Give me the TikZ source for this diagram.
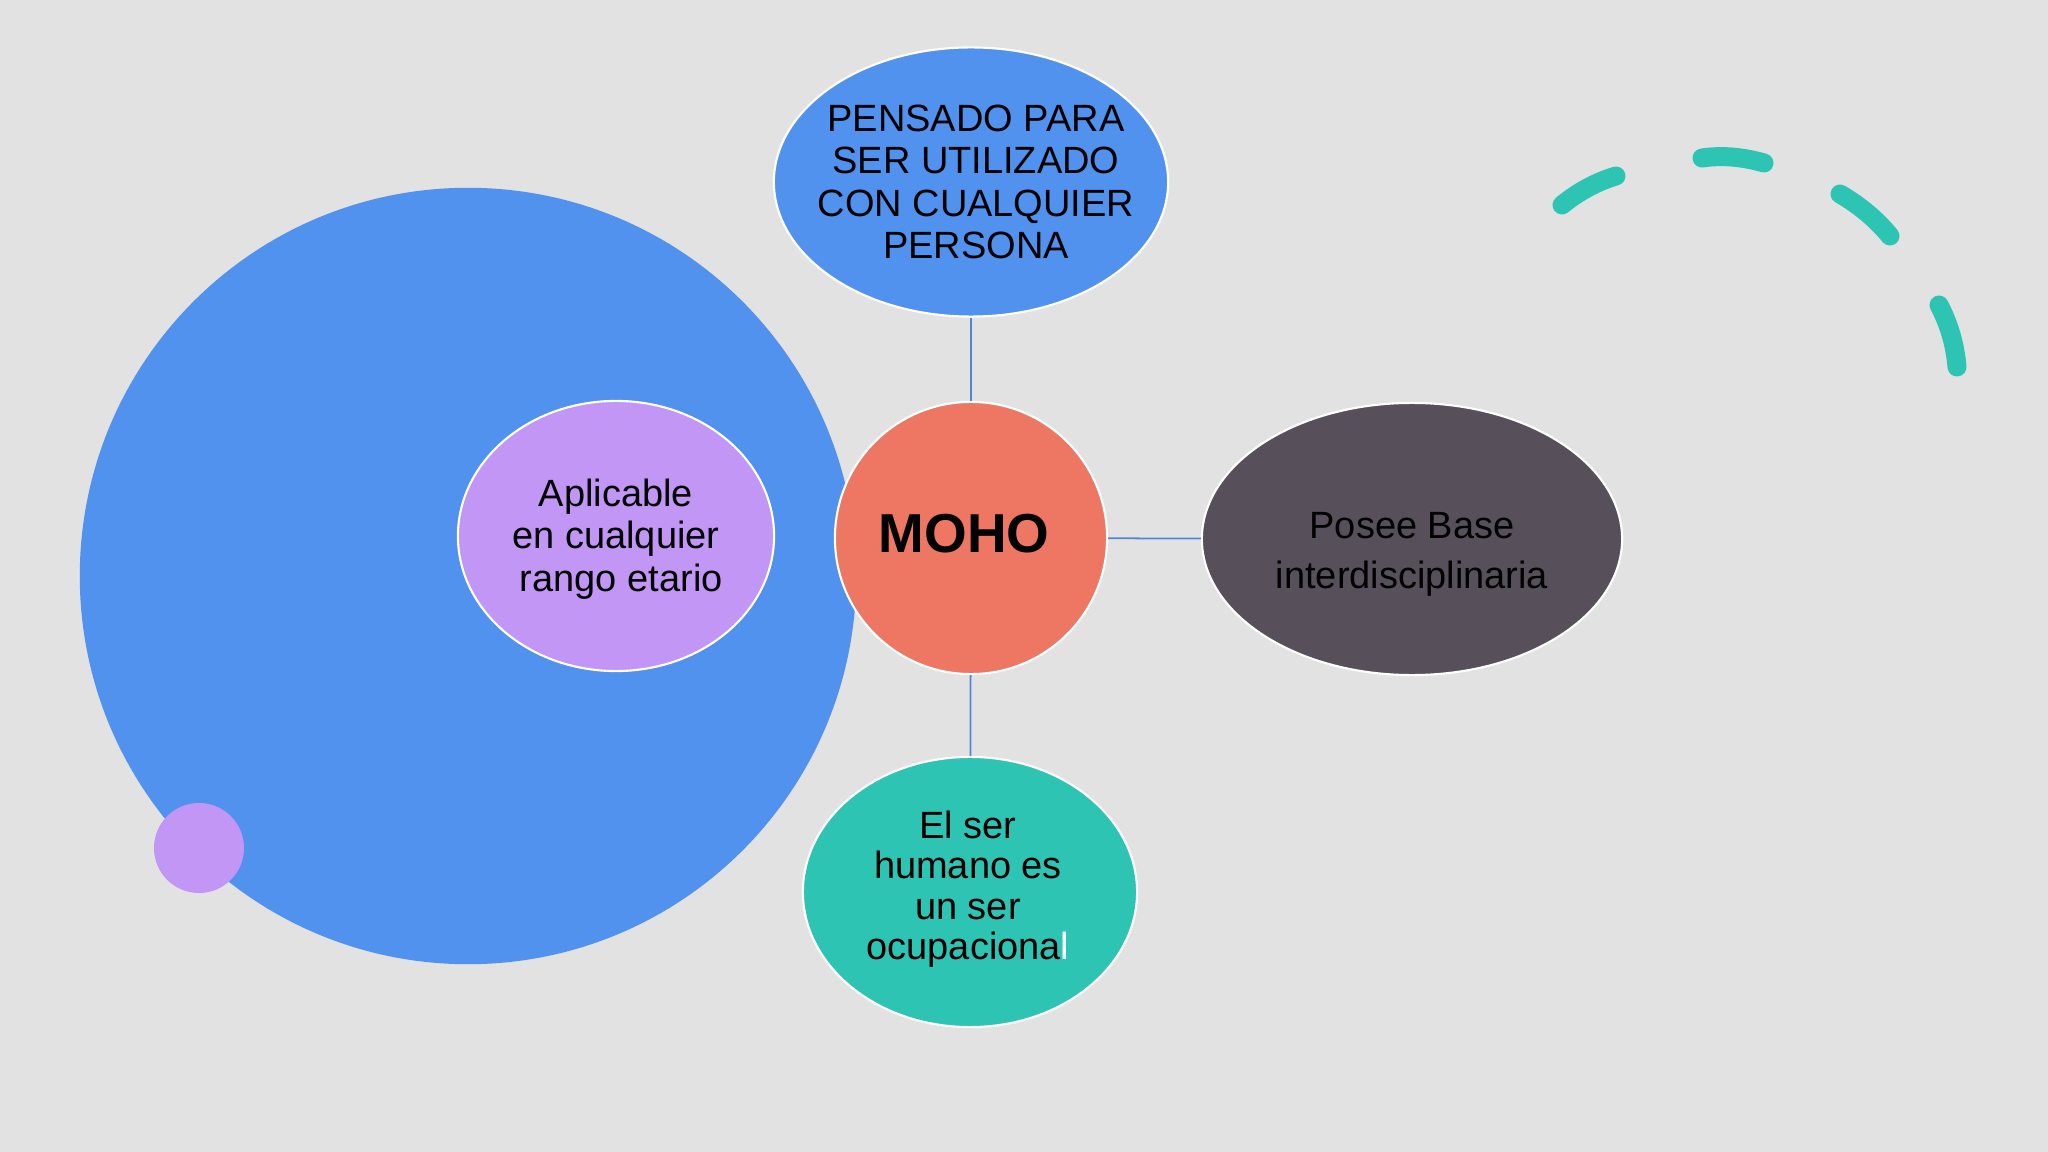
\documentclass[tikz,border=0pt]{standalone}
\usepackage{fontspec}
\setmainfont{Liberation Sans}
\usetikzlibrary{shapes.geometric}
\definecolor{paper}{HTML}{E2E2E2}
\definecolor{mohoblue}{HTML}{5092EE}
\definecolor{mohopurple}{HTML}{C196F5}
\definecolor{mohored}{HTML}{ED7762}
\definecolor{mohogray}{HTML}{57505B}
\definecolor{mohoteal}{HTML}{2EC4B4}
\definecolor{linkblue}{HTML}{4F86D8}

\begin{document}
\begin{tikzpicture}[x=0.01cm,y=-0.01cm,
  bubble/.style={ellipse,draw=white,line width=0.6pt,inner sep=0pt},
  blob/.style={circle,inner sep=0pt},
  txt/.style={align=center,text=black,font=\fontsize{10.8}{12}\selectfont},
  link/.style={draw=linkblue,line width=0.5pt},
  arcpiece/.style={draw=mohoteal,line width=0.19cm,line cap=round}]
  \fill[paper] (0,0) rectangle (2048,1152);
  \useasboundingbox (0,0) rectangle (2048,1152);

  \node[blob,fill=mohoblue,minimum size=7.76cm] (big) at (468,576) {};
  \node[blob,fill=mohopurple,minimum size=0.9cm] (dot) at (199,848) {};

  \node[bubble,fill=mohopurple,minimum width=3.16cm,minimum height=2.7cm,
    label={[txt,yshift=-0.03cm]center:{Aplicable\\en cualquier\\~rango etario}}] (aplicable) at (616,536) {};
  \node[bubble,fill=mohoblue,minimum width=3.94cm,minimum height=2.69cm,
    label={[txt,xshift=0.05cm]center:{PENSADO PARA\\SER UTILIZADO\\CON CUALQUIER\\PERSONA}}] (pensado) at (971,182) {};
  \node[bubble,fill=mohored,circle,minimum size=2.72cm,
    label={[xshift=-0.07cm,yshift=0.04cm,font=\fontsize{15.6}{18}\selectfont\bfseries]center:MOHO}] (moho) at (971,538) {};
  \node[bubble,fill=mohogray,minimum width=4.2cm,minimum height=2.72cm,
    label={[txt,yshift=-0.15cm]center:{Posee Base\\[2.2pt]interdisciplinaria}}] (posee) at (1412,539) {};
  \node[bubble,fill=mohoteal,minimum width=3.34cm,minimum height=2.7cm,
    label={[txt,yshift=0.03cm,xshift=-0.02cm,font=\fontsize{10.8}{11.5}\selectfont]center:{El ser\\humano es\\un ser\\ocupaciona\textcolor{white}{l}}}] (elser) at (970,892) {};

  \draw[link] (pensado)--(moho);
  \draw[link] (moho)--(posee);
  \draw[link] (moho)--(elser);

  \draw[arcpiece] (1562,205) .. controls (1578,192) and (1596,182) .. (1616,176);
  \draw[arcpiece] (1702,158) .. controls (1723,155) and (1743,157) .. (1764,163);
  \draw[arcpiece] (1840,194) .. controls (1859,205) and (1876,219) .. (1890,236);
  \draw[arcpiece] (1939,305) .. controls (1949,324) and (1955,344) .. (1957,367);
\end{tikzpicture}
\end{document}
